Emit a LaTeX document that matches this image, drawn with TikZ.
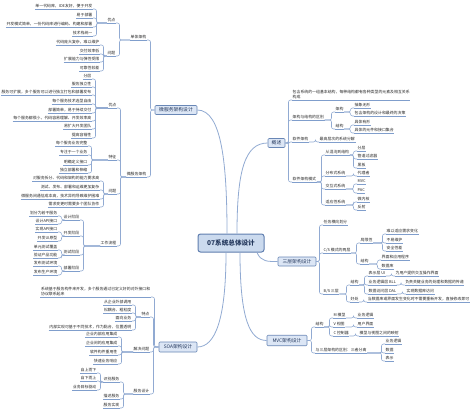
\documentclass[tikz,border=0pt]{standalone}
\usepackage{fontspec}
\setmainfont{Noto Sans CJK SC}
\usetikzlibrary{calc}
\definecolor{ulc}{RGB}{128,158,204}
\definecolor{brc}{RGB}{145,170,210}
\definecolor{txt}{RGB}{40,40,40}
\definecolor{boxfill}{RGB}{220,230,245}
\definecolor{boxdraw}{RGB}{105,135,182}
\definecolor{cfill}{RGB}{203,218,238}
\definecolor{cdraw}{RGB}{95,125,175}
\definecolor{ctext}{RGB}{35,55,92}
\newcommand\rc[2]{\foreach \cc in {#2}{\draw[brl] (#1) -- ([xshift=-3.5pt]\cc.south west |- #1) |- (\cc.south west);}}
\newcommand\lc[2]{\foreach \cc in {#2}{\draw[brl] (#1) -- ([xshift=3.5pt]\cc.south east |- #1) |- (\cc.south east);}}
\tikzset{
  ulline/.style={draw=ulc, line width=0.55pt},
  lf/.style={inner xsep=0.5pt, inner ysep=1pt, font=\fontsize{3.9}{4.7}\selectfont, text=txt,
    append after command={(\tikzlastnode.south west) edge[ulline] (\tikzlastnode.south east)}},
  L/.style={lf, anchor=south east},
  R/.style={lf, anchor=south west},
  lvone/.style={draw=boxdraw, fill=boxfill, rounded corners=1pt, line width=0.6pt,
    font=\fontsize{4.8}{5.5}\selectfont, text=ctext, inner sep=0pt, minimum height=9pt},
  rootbox/.style={draw=cdraw, fill=cfill, line width=1pt, rounded corners=2.5pt,
    minimum width=66pt, minimum height=18pt, inner sep=0pt,
    font=\fontsize{6.6}{7}\selectfont\bfseries, text=ctext},
  brl/.style={draw=brc, line width=0.55pt, rounded corners=2pt},
  mainline/.style={draw=brc, line width=0.8pt},
}
\begin{document}
\begin{tikzpicture}[x=1pt,y=-1pt]
\useasboundingbox[fill=white] (0,0) rectangle (474,412);

% ---------- root and level one ----------
\node[rootbox] (c) at (231,243) {07系统总体设计};
\node[lvone, minimum width=42pt] (m) at (176,110) {微服务架构设计};
\node[lvone, minimum width=38pt, minimum height=10pt] (s) at (178,347) {SOA架构设计};
\node[lvone, minimum width=17pt] (o) at (276.5,143) {概述};
\node[lvone, minimum width=38pt] (t) at (297,261.5) {三层架构设计};
\node[lvone, minimum width=40pt, minimum height=10.5pt] (v) at (287,340.5) {MVC架构设计};

\draw[mainline] ([xshift=-4pt]c.north) .. controls (227,165) and (222,110) .. (m.east);
\draw[mainline] ([xshift=6pt]c.north) .. controls (237,170) and (245,143) .. (o.west);
\draw[mainline] ([xshift=26pt]c.south) .. controls (261,262) and (268,261.5) .. (t.west);
\draw[mainline] ([xshift=-5pt]c.south) .. controls (226,320) and (215,347) .. (s.east);
\draw[mainline] ([xshift=9pt]c.south) .. controls (240,320) and (250,340.5) .. (v.west);

% ---------- 微服务架构设计 ----------
\node[L] (a1) at (147,40) {单体架构};
\node[L] (a2) at (147,177) {微服务架构};
\lc{m.west}{a1,a2}

\node[L] (a11) at (116,23) {优点};
\node[L] (a12) at (116,56) {问题};
\lc{a1.south west}{a11,a12}

\node[L] (a111) at (93,9) {单一代码库，IDE友好，便于开发};
\node[L] (a112) at (93,18) {易于部署};
\node[L] (a113) at (93,27) {开发模式简单，一份代码库进行编码、构建和部署};
\node[L] (a114) at (93,36) {技术栈统一};
\lc{a11.south west}{a111,a112,a113,a114}

\node[L] (a121) at (100,45) {代码庞大复杂，难以维护};
\node[L] (a122) at (100,54) {交付效率低};
\node[L] (a123) at (100,62) {扩展能力与弹性受限};
\node[L] (a124) at (100,71) {可靠性较差};
\lc{a12.south west}{a121,a122,a123,a124}

\node[L] (a21) at (117,108) {优点};
\node[L] (a22) at (117,160) {特征};
\node[L] (a23) at (117,194) {问题};
\node[L] (a24) at (117,246) {工作流程};
\lc{a2.south west}{a21,a22,a23,a24}

\node[L] (b1) at (92,79) {分层};
\node[L] (b2) at (92,87) {服务独立性};
\node[L] (b3) at (92,95) {服务可扩展，多个服务可以进行独立打包和部署发布};
\node[L] (b4) at (92,104) {每个服务技术选型自由};
\node[L] (b5) at (92,113) {部署简单，易于持续交付};
\node[L] (b6) at (92,121) {每个服务都很小，代码容易理解、开发效率高};
\node[L] (b7) at (92,129) {易扩大开发团队};
\node[L] (b8) at (92,138) {提高容错性};
\lc{a21.south west}{b1,b2,b3,b4,b5,b6,b7,b8}

\node[L] (c1) at (88,146) {每个服务业务完整};
\node[L] (c2) at (88,155) {专注于一个业务};
\node[L] (c3) at (88,165) {明确定义接口};
\node[L] (c4) at (88,173) {独立部署和伸缩};
\lc{a22.south west}{c1,c2,c3,c4}

\node[L] (d1) at (100,181) {对服务拆分、代码和架构的能力要求高};
\node[L] (d2) at (100,190) {测试、发布、部署和运维更加复杂};
\node[L] (d3) at (100,199) {微服务间通信成本高，技术异构导致维护困难};
\node[L] (d4) at (100,207) {需求变更时需要多个团队协作};
\lc{a23.south west}{d1,d2,d3,d4}

\node[L] (e1) at (80,220) {设计阶段};
\node[L] (e2) at (80,236) {开发阶段};
\node[L] (e3) at (80,255) {测试阶段};
\node[L] (e4) at (80,271) {部署阶段};
\lc{a24.south west}{e1,e2,e3,e4}

\node[L] (e11) at (58,216) {划分为若干服务};
\node[L] (e12) at (58,224) {设计API接口};
\lc{e1.south west}{e11,e12}
\node[L] (e21) at (58,232) {实现API接口};
\node[L] (e22) at (58,241) {开发UI原型};
\lc{e2.south west}{e21,e22}
\node[L] (e31) at (58,250) {单元测试覆盖};
\node[L] (e32) at (58,258) {验证产品功能};
\lc{e3.south west}{e31,e32}
\node[L] (e41) at (58,266) {发布测试环境};
\node[L] (e42) at (58,275) {发布生产环境};
\lc{e4.south west}{e41,e42}

% ---------- SOA架构设计 ----------
\node[L, align=left] (s0) at (151,297) {系统基于服务构件来开发，多个服务通过已定义好的对外接口和\\协议联系起来};
\node[L] (s1) at (150,317) {特点};
\node[L] (s2) at (150,352) {解决问题};
\node[L] (s3) at (150,394) {服务设计};
\lc{s.west}{s0,s1,s2,s3}

\node[L] (s11) at (132,305) {从企业外部调用};
\node[L] (s12) at (132,313) {松耦合、粗粒度};
\node[L] (s13) at (132,321) {面向业务};
\node[L] (s14) at (132,330) {内部实现可基于不同技术，作为黏合，位置透明};
\lc{s1.south west}{s11,s12,s13,s14}

\node[L] (s21) at (118,337) {企业内部应用集成};
\node[L] (s22) at (118,346) {企业间的应用集成};
\node[L] (s23) at (118,355) {软件构件重用性};
\node[L] (s24) at (118,364) {快速业务响应};
\lc{s2.south west}{s21,s22,s23,s24}

\node[L] (s31) at (120,382) {识别服务};
\node[L] (s32) at (120,399) {描述服务};
\node[L] (s33) at (120,408) {服务实现};
\lc{s3.south west}{s31,s32,s33}

\node[L] (s311) at (97,373) {自上而下};
\node[L] (s312) at (97,381) {自下而上};
\node[L] (s313) at (97,390) {业务目标驱动};
\lc{s31.south west}{s311,s312,s313}

% ---------- 概述 ----------
\node[R, align=left] (g1) at (292,100) {包含系统的一组基本结构，每种结构都有各种类型的元素及相互关系\\构成};
\node[R] (g2) at (292,120) {架构与结构的区别};
\node[R] (g3) at (292,142) {软件架构};
\node[R] (g4) at (292,182) {软件架构模式};
\rc{o.east}{g1,g2,g3,g4}

\node[R] (g21) at (335,112) {架构};
\node[R] (g22) at (335,129) {结构};
\rc{g2.south east}{g21,g22}
\node[R] (g211) at (354,108) {抽象无形};
\node[R] (g212) at (354,116) {包含架构的设计和最终的决策};
\rc{g21.south east}{g211,g212}
\node[R] (g221) at (354,125) {具体有形};
\node[R] (g222) at (354,133) {具体的元件和接口集合};
\rc{g22.south east}{g221,g222}

\node[R] (g31) at ([xshift=10pt]g3.south east) {最高层次的系统分解};
\rc{g3.south east}{g31}

\node[R] (p1) at (325,155) {从混沌到结构};
\node[R] (p2) at (325,176) {分布式系统};
\node[R] (p3) at (325,189) {交互式系统};
\node[R] (p4) at (325,205) {适应性系统};
\rc{g4.south east}{p1,p2,p3,p4}
\node[R] (p11) at (357,151) {分层};
\node[R] (p12) at (357,159) {管道过滤器};
\node[R] (p13) at (357,168) {黑板};
\rc{p1.south east}{p11,p12,p13}
\node[R] (p21) at (357,176) {代理者};
\rc{p2.south east}{p21}
\node[R] (p31) at (357,184) {MVC};
\node[R] (p32) at (357,193) {PAC};
\rc{p3.south east}{p31,p32}
\node[R] (p41) at (357,202) {微内核};
\node[R] (p42) at (357,210) {反射};
\rc{p4.south east}{p41,p42}

% ---------- 三层架构设计 ----------
\node[R] (t1) at (323,225) {任务横向划分};
\node[R] (t2) at (323,253) {C/S 模式的两层};
\node[R] (t3) at (323,294) {B/S 三层};
\rc{t.east}{t1,t2,t3}

\node[R] (t21) at (360,243) {局限性};
\node[R] (t22) at (360,264) {结构};
\rc{t2.south east}{t21,t22}
\node[R] (t211) at (386,234) {难以适应需求变化};
\node[R] (t212) at (386,243) {不易维护};
\node[R] (t213) at (386,251) {安全性差};
\rc{t21.south east}{t211,t212,t213}
\node[R] (t221) at (381,260) {界面和应用程序};
\node[R] (t222) at (381,269) {数据库};
\rc{t22.south east}{t221,t222}

\node[R] (t31) at (350,285) {结构};
\node[R] (t32) at (350,302) {好处};
\rc{t3.south east}{t31,t32}
\node[R] (t311) at (368,276) {表示层 UI};
\node[R] (t312) at (368,285) {业务逻辑层 BLL};
\node[R] (t313) at (368,294) {数据访问层 DAL};
\rc{t31.south east}{t311,t312,t313}
\node[R] (t3111) at ([xshift=9pt]t311.south east) {为用户提供交互操作界面};
\rc{t311.south east}{t3111}
\node[R] (t3121) at ([xshift=8pt]t312.south east) {负责关键业务的处理和数据的传递};
\rc{t312.south east}{t3121}
\node[R] (t3131) at ([xshift=9pt]t313.south east) {实现数据库访问};
\rc{t313.south east}{t3131}
\node[R] (t321) at ([xshift=8pt]t32.south east) {当数据库或界面发生变化时不需要重新开发，直接修改即可};
\rc{t32.south east}{t321}

% ---------- MVC架构设计 ----------
\node[R] (v1) at (315,327) {结构};
\node[R] (v2) at (315,353) {与三层架构的区别：三者分离};
\rc{v.east}{v1,v2}
\node[R] (v11) at (333,318) {M 模型};
\node[R] (v12) at (333,327) {V 视图};
\node[R] (v13) at (333,336) {C 控制器};
\rc{v1.south east}{v11,v12,v13}
\node[R] (v111) at (357,318) {业务逻辑};
\rc{v11.south east}{v111}
\node[R] (v121) at (357,327) {用户界面};
\rc{v12.south east}{v121}
\node[R] (v131) at (359,336) {模型与视图之间的映射};
\rc{v13.south east}{v131}
\node[R] (v21) at (385,344) {业务逻辑};
\node[R] (v22) at (385,353) {数据};
\node[R] (v23) at (385,361) {表示};
\rc{v2.south east}{v21,v22,v23}
\end{tikzpicture}
\end{document}
